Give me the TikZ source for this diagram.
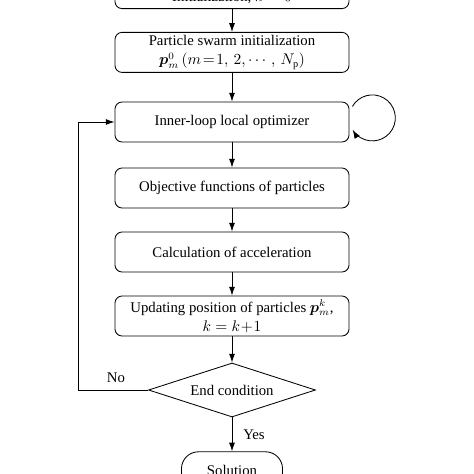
\documentclass[tikz,border=0pt]{standalone}
\usepackage{amsmath}
\usepackage{fontspec}
\setmainfont{Liberation Serif}
\usetikzlibrary{positioning,shapes,arrows.meta}

\tikzset{
  stepbox/.style={draw,rounded corners=5pt,minimum width=5.85cm,minimum height=1cm,
    align=center,inner sep=2pt,font=\fontsize{10.5}{13.5}\selectfont},
  decide/.style={draw,diamond,aspect=3.1,minimum width=4.175cm,minimum height=1.35cm,inner sep=0pt,
    font=\fontsize{10.5}{12.5}\selectfont},
  endbox/.style={draw,rounded corners=12pt,minimum width=2.525cm,minimum height=0.95cm,
    font=\fontsize{10.5}{12.5}\selectfont},
  lbl/.style={font=\fontsize{10.5}{12.5}\selectfont}
}

\begin{document}
\begin{tikzpicture}[semithick,>={Latex[length=2.2mm,width=1.5mm]}]
\useasboundingbox (0,0) rectangle (11.85,-11.85);
\node[stepbox,text height=0.68cm,anchor=south] (init) at (5.8,-0.225) {Initialization, $k=0$};
\node[stepbox] (swarm) at (5.8,-1.31) {Particle swarm initialization\\
  $\boldsymbol{p}_m^0\,(m\!=\!1,\,2,\cdots,\,N_\mathrm{p})$};
\node[stepbox] (inner) at (5.8,-3.05) {Inner-loop local optimizer};
\node[stepbox] (obj) at (5.8,-4.7) {Objective functions of particles};
\node[stepbox] (acc) at (5.8,-6.3) {Calculation of acceleration};
\node[stepbox] (upd) at (5.8,-7.9) {Updating position of particles $\boldsymbol{p}_m^k$,\\
  $k=k\!+\!1$};
\node[decide] (cond) at (5.8,-9.75) {End condition};
\node[endbox] (sol) at (5.8,-11.77) {Solution};
%
\coordinate (ret) at (1.95,-9.75);
\coordinate (loop) at ([xshift=0.075cm,yshift=0.39cm]inner.east);
\node[lbl] (no) at (2.9,-9.45) {No};
\node[lbl] (yes) at (6.35,-10.87) {Yes};
%
\draw[->] (init) -- (swarm);
\draw[->] (swarm) -- (inner);
\draw[->] (inner) -- (obj);
\draw[->] (obj) -- (acc);
\draw[->] (acc) -- (upd);
\draw[->] (upd) -- (cond);
\draw[->] (cond) -- (sol);
\draw[->] (cond) -- (ret) |- (inner);
\draw[->] (loop) arc[start angle=150,end angle=-149,radius=0.575cm];
\end{tikzpicture}
\end{document}
